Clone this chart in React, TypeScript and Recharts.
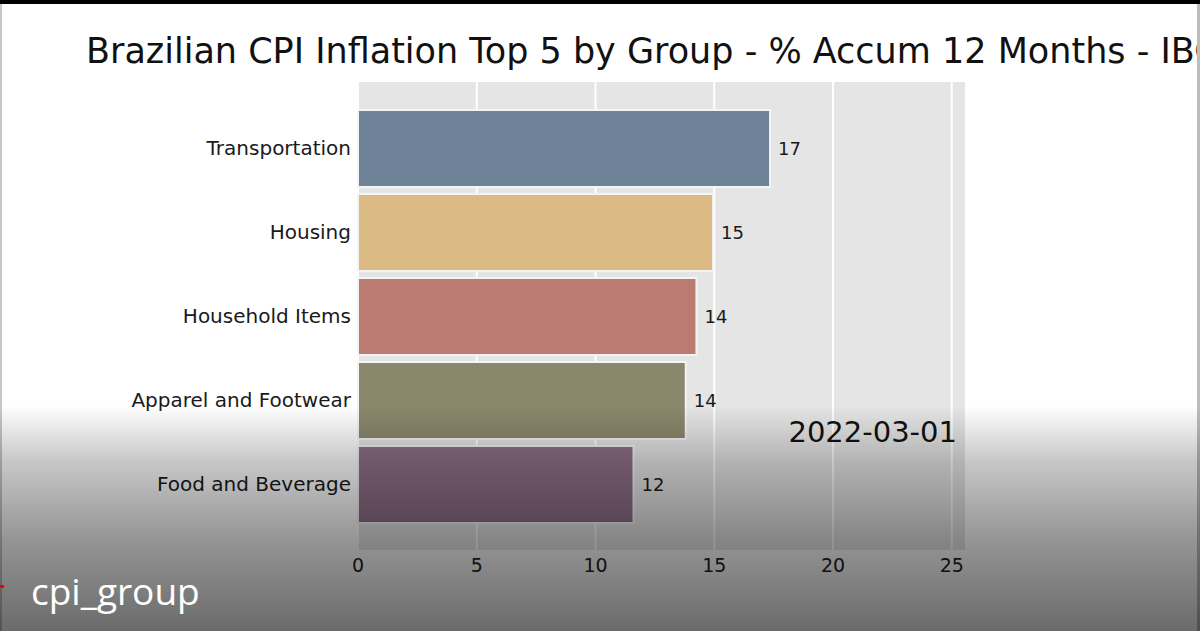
import React from 'react';
import { BarChart, Bar, XAxis, YAxis, CartesianGrid, Cell, LabelList } from 'recharts';

// CPI groups, accumulated 12 months (%), snapshot 2022-03-01
const groups = ['Transportation', 'Housing', 'Household Items', 'Apparel and Footwear', 'Food and Beverage'];
const values = [17.35, 14.95, 14.25, 13.8, 11.6];
const colors = ['#6e8298', '#dbba83', '#bc7b72', '#8a886c', '#8f7088'];
const xTicks = [0, 5, 10, 15, 20, 25];

const data = groups.map((name, i) => ({ name, value: values[i] }));

const FONT = '"DejaVu Sans", sans-serif';

export default function App() {
  return (
    <div
      style={{
        position: 'fixed',
        left: 0,
        top: 0,
        width: 1200,
        height: 631,
        overflow: 'hidden',
        background: '#ffffff',
        fontFamily: FONT,
      }}
    >
      {/* top black strip from the player */}
      <div style={{ position: 'absolute', left: 0, top: 0, width: 1200, height: 4, background: '#000' }} />
      <div style={{ position: 'absolute', left: 0, top: 4, width: 2, height: 627, background: '#c8c8c8' }} />

      <div
        style={{
          position: 'absolute',
          left: 86,
          top: 31,
          fontSize: 35,
          whiteSpace: 'nowrap',
          color: '#111',
        }}
      >
        Brazilian CPI Inflation Top 5 by Group - % Accum 12 Months - IBGE
      </div>
      <div style={{ position: 'absolute', left: 1197, top: 4, width: 3, height: 627, background: '#bdbdbd' }} />

      <div style={{ position: 'absolute', left: 0, top: 0 }}>
        <BarChart
          width={1200}
          height={631}
          data={data}
          layout="vertical"
          margin={{ top: 82, right: 234, bottom: 51, left: 0 }}
          barSize={77}
        >
          <CartesianGrid fill="#e5e5e5" stroke="#ffffff" strokeWidth={2} horizontal={false} />
          <XAxis
            type="number"
            dataKey="value"
            domain={[0, 25.6]}
            ticks={xTicks}
            axisLine={false}
            tickLine={false}
            tickSize={0}
            tickMargin={9}
            height={30}
            tick={{ fontSize: 19, fill: '#222', fontFamily: FONT }}
          />
          <YAxis
            type="category"
            dataKey="name"
            width={358}
            axisLine={false}
            tickLine={false}
            tickSize={0}
            tickMargin={7}
            padding={{ top: 24, bottom: 24 }}
            tick={{ fontSize: 20, fill: '#1a1a1a', fontFamily: FONT }}
          />
          <Bar dataKey="value" stroke="#f4f4f4" strokeWidth={2} isAnimationActive={false}>
            {data.map((d, i) => (
              <Cell key={d.name} fill={colors[i]} />
            ))}
            <LabelList
              dataKey="value"
              position="right"
              offset={8}
              formatter={(v: number) => Math.round(v)}
              style={{ fontSize: 18, fill: '#1a1a1a', fontFamily: FONT }}
            />
          </Bar>
        </BarChart>
      </div>

      <div
        style={{
          position: 'absolute',
          right: 243,
          top: 415,
          fontSize: 29,
          color: '#111',
          whiteSpace: 'nowrap',
        }}
      >
        2022-03-01
      </div>

      {/* video player bottom shade */}
      <div
        style={{
          position: 'absolute',
          left: 0,
          top: 405,
          width: 1200,
          height: 226,
          background:
            'linear-gradient(to bottom, rgba(0,0,0,0) 0%, rgba(0,0,0,0.22) 25%, rgba(0,0,0,0.42) 60%, rgba(0,0,0,0.58) 100%)',
          pointerEvents: 'none',
        }}
      />
      <div style={{ position: 'absolute', left: 0, top: 585, width: 4, height: 3, background: '#e00' }} />
      <div
        style={{
          position: 'absolute',
          left: 31,
          top: 565,
          fontSize: 37,
          color: '#ffffff',
          fontFamily: '"Open Sans", "Noto Sans", sans-serif',
          whiteSpace: 'nowrap',
        }}
      >
        cpi_group
      </div>
    </div>
  );
}
